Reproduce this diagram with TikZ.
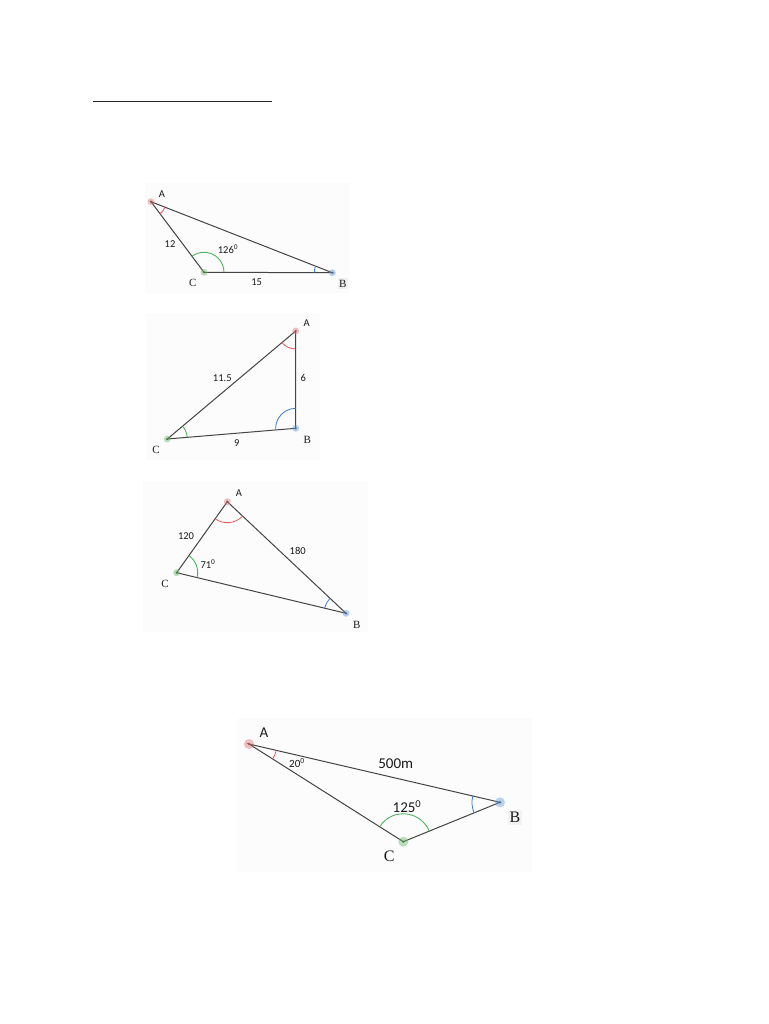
\documentclass[tikz,border=0pt]{standalone}
\usepackage{fontspec}
\usetikzlibrary{angles}
\newfontfamily\sansf{Carlito}
\newfontfamily\serf{Liberation Serif}
\definecolor{edgec}{HTML}{444444}
\definecolor{panelc}{HTML}{FCFCFC}
\definecolor{ptred}{HTML}{E57373}
\definecolor{ptgreen}{HTML}{66BB6A}
\definecolor{ptblue}{HTML}{64A0E0}
\definecolor{arcred}{HTML}{E8585A}
\definecolor{arcgreen}{HTML}{3FAF4F}
\definecolor{arcblue}{HTML}{3A7FD0}
\tikzset{
  edge/.style={draw=edgec, line width=1pt},
  panel/.style={fill=panelc, draw=none},
  slab/.style={font=\sansf\fontsize{10.5}{12}\selectfont, inner sep=0pt, text=black!90},
  tlab/.style={font=\serf\fontsize{11}{12}\selectfont, inner sep=0pt, text=black!90},
  blab/.style={font=\sansf\fontsize{15}{17}\selectfont, inner sep=0pt, text=black!90},
  btlab/.style={font=\serf\fontsize{16}{18}\selectfont, inner sep=0pt, text=black!90},
  ared/.style={draw=arcred, line width=0.8pt},
  agreen/.style={draw=arcgreen, line width=0.8pt},
  ablue/.style={draw=arcblue, line width=0.8pt},
}
\newcommand{\vdot}[3]{%
  \fill[#2, opacity=0.45] (#1) circle (#3);
  \fill[edgec!60!#2] (#1) circle (1.2);}
\begin{document}
\begin{tikzpicture}[x=1pt, y=-1pt]
\useasboundingbox (0,0) rectangle (768,1024);
\fill[white] (0,0) rectangle (768,1024);
% heading rule
\coordinate (r1) at (93,102);
\coordinate (r2) at (272,102);
\draw[black!85, line width=1pt] (r1) -- (r2);

% panels
\fill[panel] (145,183) rectangle (350,293);
\fill[panel] (146,313) rectangle (320,460);
\fill[panel] (143,481) rectangle (368,632);
\fill[panel] (238,718) rectangle (532,872);

% ---------- triangle 1 ----------
\coordinate (A1) at (151,201.7);
\coordinate (C1) at (204,272.3);
\coordinate (B1) at (332.3,272.7);
\draw[edge] (A1) -- (C1) -- (B1) -- cycle;
\pic[ared, angle radius=15] {angle = C1--A1--B1};
\pic[agreen, angle radius=20] {angle = B1--C1--A1};
\pic[ablue, angle radius=18] {angle = A1--B1--C1};
\vdot{A1}{ptred}{3.5}
\vdot{C1}{ptgreen}{3.5}
\vdot{B1}{ptblue}{3.5}
\node[slab] (lA1) at (162,194) {A};
\node[tlab] (lC1) at (192.7,282.5) {C};
\node[tlab, fill=black!6, inner sep=1.5pt] (lB1) at (342.7,283.5) {B};
\node[slab] (s12) at (170,244) {12};
\node[slab] (s15) at (256.7,282.5) {15};
\node[slab] (s126) at (228,249) {126\textsuperscript{0}};

% ---------- triangle 2 ----------
\coordinate (A2) at (295.7,331);
\coordinate (B2) at (295.7,428.3);
\coordinate (C2) at (167.3,439);
\draw[edge] (A2) -- (C2) -- (B2) -- cycle;
\pic[ared, angle radius=18] {angle = C2--A2--B2};
\pic[agreen, angle radius=20] {angle = B2--C2--A2};
\pic[ablue, angle radius=20] {angle = A2--B2--C2};
\vdot{A2}{ptred}{3.5}
\vdot{C2}{ptgreen}{3.5}
\vdot{B2}{ptblue}{3.5}
\node[slab] (lA2) at (306.7,323.3) {A};
\node[tlab] (lB2) at (307.3,439.5) {B};
\node[tlab] (lC2) at (156,450) {C};
\node[slab] (s115) at (222.3,378.3) {11.5};
\node[slab] (s6) at (303.3,378.3) {6};
\node[slab] (s9) at (236.7,443) {9};

% ---------- triangle 3 ----------
\coordinate (A3) at (227.3,501.7);
\coordinate (C3) at (176.7,572.7);
\coordinate (B3) at (346,613.3);
\draw[edge] (A3) -- (C3) -- (B3) -- cycle;
\pic[ared, angle radius=21] {angle = C3--A3--B3};
\pic[agreen, angle radius=21] {angle = B3--C3--A3};
\pic[ablue, angle radius=22] {angle = A3--B3--C3};
\vdot{A3}{ptred}{3.5}
\vdot{C3}{ptgreen}{3.5}
\vdot{B3}{ptblue}{3.5}
\node[slab] (lA3) at (239,492.7) {A};
\node[tlab] (lC3) at (165,584.3) {C};
\node[tlab] (lB3) at (356.7,624.5) {B};
\node[slab] (s120) at (186,536) {120};
\node[slab] (s180) at (297.7,551) {180};
\node[slab] (s71) at (208,564.3) {71\textsuperscript{0}};

% ---------- triangle 4 ----------
\coordinate (A4) at (249,744);
\coordinate (C4) at (403.3,841.7);
\coordinate (B4) at (500,802.3);
\draw[edge] (A4) -- (C4) -- (B4) -- cycle;
\pic[ared, angle radius=28] {angle = C4--A4--B4};
\pic[agreen, angle radius=28] {angle = B4--C4--A4};
\pic[ablue, angle radius=28] {angle = A4--B4--C4};
\vdot{A4}{ptred}{5}
\vdot{C4}{ptgreen}{5}
\vdot{B4}{ptblue}{5}
\node[blab] (lA4) at (264,732.7) {A};
\node[btlab] (lC4) at (389.3,856) {C};
\node[btlab, fill=black!5, inner sep=2pt] (lB4) at (515,817.5) {B};
\node[slab, font=\sansf\fontsize{11}{12}\selectfont] (s20) at (297,763.3) {20\textsuperscript{0}};
\node[blab] (s500) at (395.7,764) {500m};
\node[blab] (s125) at (407,806.7) {125\textsuperscript{0}};
\end{tikzpicture}
\end{document}
